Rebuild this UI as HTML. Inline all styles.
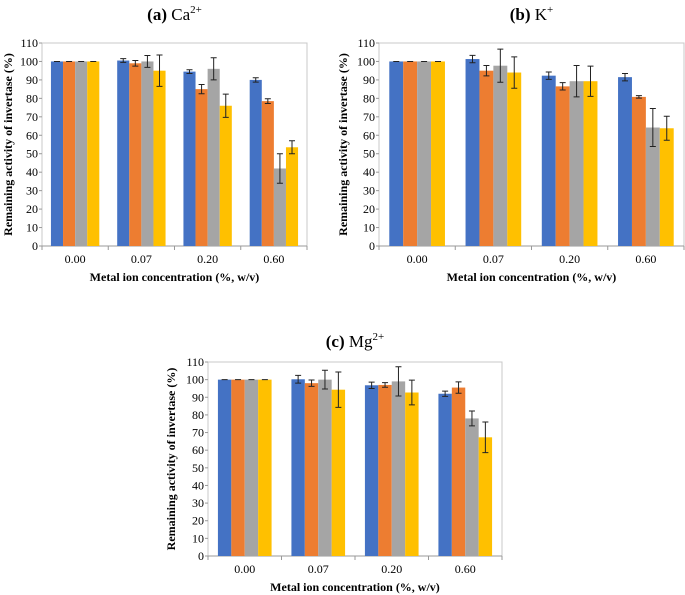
<!DOCTYPE html>
<html><head><meta charset="utf-8"><style>
html,body{margin:0;padding:0;background:#fff;}
svg{display:block;font-family:"Liberation Serif",serif;}
</style></head><body>
<svg id="s" width="685" height="595" viewBox="0 0 685 595"></svg>
<script>
const categories=["0.00","0.07","0.20","0.60"];
const yTicks=[0,10,20,30,40,50,60,70,80,90,100,110];
const colors=["#4472C4","#ED7D31","#A5A5A5","#FFC000"];
const caBlue=[100,100.5,94.5,90], caBlueErr=[0,1,1,1.2];
const caOrange=[100,99,85,78.5], caOrangeErr=[0,1.5,2.5,1.3];
const caGray=[100,100,96,42], caGrayErr=[0,3.2,6,8];
const caYellow=[100,95,76,53.5], caYellowErr=[0,8.5,6.3,3.5];
const kBlue=[100,101.3,92.3,91.5], kBlueErr=[0,2,2,2];
const kOrange=[100,95,86.5,80.8], kOrangeErr=[0,2.8,2,0.7];
const kGray=[100,97.7,89.3,64.2], kGrayErr=[0,9,8.5,10.3];
const kYellow=[100,94,89.3,63.8], kYellowErr=[0,8.5,8.2,6.5];
const mgBlue=[100,100.2,96.8,92], mgBlueErr=[0,2.2,1.8,1.5];
const mgOrange=[100,98,97,95.5], mgOrangeErr=[0,1.8,1.3,3.2];
const mgGray=[100,100,99,78], mgGrayErr=[0,5.3,8.3,4.2];
const mgYellow=[100,94.3,92.7,67.3], mgYellowErr=[0,10,7,8.7];

const svg=document.getElementById('s');
const NS="http://www.w3.org/2000/svg";
function mk(tag,attrs,parent){const e=document.createElementNS(NS,tag);for(const k in attrs)e.setAttribute(k,attrs[k]);(parent||svg).appendChild(e);return e;}

function chart(key,title,sup,L,R,T,B,series,errs,titleY,ytX){
  const g=mk('g',{});
  
  
  const y=v=>B-(v/110)*(B-T);
  const cw=(R-L)/categories.length;
  const bw=cw*0.73/4;
  const t=mk('text',{x:(L+R)/2,y:titleY,'text-anchor':'middle','font-size':'17','font-weight':'bold'},g);
  
  
  t.innerHTML=title+' <tspan font-weight="normal">'+sup[0]+'</tspan><tspan font-weight="normal" font-size="11" dy="-7">'+sup[1]+'</tspan>';
  const fr=mk('rect',{x:L,y:T,width:R-L,height:B-T,fill:'none',stroke:'#c8c8c8','stroke-width':1},g);
  
  
  yTicks.forEach(v=>{
    const tl=mk('text',{x:L-4,y:y(v)+4,'text-anchor':'end','font-size':'12'},g);
    
    
    tl.textContent=v;
    mk('line',{x1:L-3,x2:L,y1:y(v),y2:y(v),stroke:'#999'},g);
  });
  mk('line',{x1:L,x2:R,y1:B,y2:B,stroke:'#999'},g);
  for(let i=0;i<=categories.length;i++){mk('line',{x1:L+i*cw,x2:L+i*cw,y1:B,y2:B+4,stroke:'#999'},g);}
  categories.forEach((c,i)=>{
    const tl=mk('text',{x:L+(i+0.5)*cw,y:B+17,'text-anchor':'middle','font-size':'12'},g);
    
    
    tl.textContent=c;
  });
  series.forEach((s,si)=>{
    s.forEach((v,i)=>{
      const x0=L+i*cw+cw*0.135+si*bw;
      const r=mk('rect',{x:x0,y:y(v),width:bw,height:B-y(v),fill:colors[si]},g);
      
      
      const e=errs[si][i];
      const cx=x0+bw/2;
      const eb=mk('path',{d:`M${cx-3},${y(v+e)}H${cx+3}M${cx},${y(v+e)}V${y(v-e)}M${cx-3},${y(v-e)}H${cx+3}`,stroke:'#222','stroke-width':1,fill:'none'},g);
      
      
    });
  });
  const xt=mk('text',{x:(L+R)/2,y:B+35,'text-anchor':'middle','font-size':'12','font-weight':'bold'},g);
  
  
  xt.textContent='Metal ion concentration (%, w/v)';
  const yt=mk('text',{x:0,y:0,'text-anchor':'middle','font-size':'12','font-weight':'bold',transform:`translate(${ytX},${(T+B)/2}) rotate(-90)`},g);
  
  
  yt.textContent='Remaining activity of invertase (%)';
}
chart('ca','(a)',['Ca','2+'],42,307,43,246,[caBlue,caOrange,caGray,caYellow],[caBlueErr,caOrangeErr,caGrayErr,caYellowErr],20,12);
chart('k','(b)',['K','+'],379,684,43,246,[kBlue,kOrange,kGray,kYellow],[kBlueErr,kOrangeErr,kGrayErr,kYellowErr],20,347);
chart('mg','(c)',['Mg','2+'],208,502,362,556,[mgBlue,mgOrange,mgGray,mgYellow],[mgBlueErr,mgOrangeErr,mgGrayErr,mgYellowErr],347,175);
</script>
</body></html>
